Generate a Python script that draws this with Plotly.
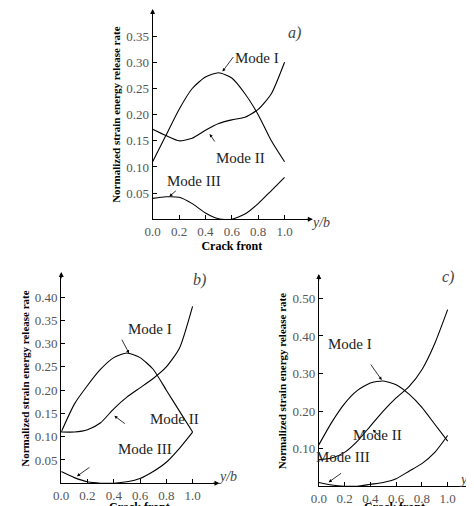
import plotly.graph_objects as go

W, H = 474, 506
x = [0.0, 0.1, 0.2, 0.3, 0.4, 0.5, 0.6, 0.7, 0.8, 0.9, 1.0]
a_I = [0.11, 0.16, 0.21, 0.25, 0.272, 0.28, 0.27, 0.24, 0.20, 0.15, 0.11]
a_II = [0.172, 0.16, 0.15, 0.155, 0.17, 0.183, 0.19, 0.195, 0.21, 0.24, 0.30]
a_III = [0.04, 0.043, 0.042, 0.03, 0.012, 0.001, 0.0, 0.01, 0.03, 0.055, 0.08]
b_I = [0.11, 0.17, 0.21, 0.245, 0.27, 0.28, 0.27, 0.245, 0.20, 0.155, 0.11]
b_II = [0.11, 0.11, 0.115, 0.13, 0.16, 0.185, 0.205, 0.225, 0.25, 0.29, 0.38]
b_III = [0.025, 0.012, 0.003, 0.0, 0.0, 0.003, 0.01, 0.025, 0.045, 0.075, 0.11]
c_I = [0.11, 0.17, 0.22, 0.255, 0.275, 0.28, 0.27, 0.245, 0.21, 0.165, 0.12]
c_II = [0.07, 0.075, 0.09, 0.12, 0.16, 0.20, 0.235, 0.265, 0.31, 0.38, 0.47]
c_III = [0.01, 0.003, 0.0, 0.0, 0.005, 0.01, 0.02, 0.04, 0.06, 0.09, 0.135]
xticks = [0.0, 0.2, 0.4, 0.6, 0.8, 1.0]
yt_a = [0.05, 0.10, 0.15, 0.20, 0.25, 0.30, 0.35]
yt_b = [0.05, 0.10, 0.15, 0.20, 0.25, 0.30, 0.35, 0.40]
yt_c = [0.10, 0.20, 0.30, 0.40, 0.50]

def px(xp): return xp / W
def py(yp): return 1 - yp / H

FONT = "Liberation Serif"
fig = go.Figure()
panels = [
    ((a_I, a_II, a_III), yt_a, 139, 300, 213, 2, 1.2, 0.40, "a)", (283, 14)),
    ((b_I, b_II, b_III), yt_b, 46, 205, 479, 268, 1.19, 0.45, "b)", (187, 274)),
    ((c_I, c_II, c_III), yt_c, 308, 462, 482, 270, 1.175, 0.56, "c)", (448, 271)),
]
layout = {}
for i, (series, yt, x0, x1, y0, y1, xmax, ymax, lab, lp) in enumerate(panels):
    n = "" if i == 0 else str(i + 1)
    for s in series:
        fig.add_trace(go.Scatter(x=x, y=s, mode="lines",
                                 line=dict(color="black", width=1.1, shape="spline", smoothing=0.6),
                                 xaxis="x" + n, yaxis="y" + n, showlegend=False))
    ax = dict(domain=[px(x0), px(x1)], range=[0, xmax], tickvals=xticks, ticktext=[f"{v:.1f}" for v in xticks],
              showgrid=False, zeroline=False, showline=True, linecolor="black", ticks="inside", ticklen=4,
              tickcolor="black", tickfont=dict(family=FONT, size=13, color="#555"), anchor="y" + n,
              title=dict(text="<b>Crack front</b>", font=dict(family=FONT, size=12, color="black"), standoff=0))
    ay = dict(domain=[py(y0), py(y1)], range=[0, ymax], tickvals=yt, ticktext=[f"{v:.2f}" for v in yt],
              showgrid=False, zeroline=False, showline=True, linecolor="black", ticks="inside", ticklen=4,
              tickcolor="black", tickfont=dict(family=FONT, size=13, color="#555"), anchor="x" + n,
              title=dict(text="<b>Normalized strain energy release rate</b>", font=dict(family=FONT, size=11, color="black"), standoff=3))
    layout["xaxis" + n] = ax
    layout["yaxis" + n] = ay
    fig.add_annotation(xref="paper", yref="paper", x=px(x1 + 2), y=py(y0), ax=-8, ay=0, text="", showarrow=True,
                       arrowhead=2, arrowsize=1, arrowwidth=1, arrowcolor="black")
    fig.add_annotation(xref="paper", yref="paper", x=px(x0), y=py(y1 - 2), ax=0, ay=8, text="", showarrow=True,
                       arrowhead=2, arrowsize=1, arrowwidth=1, arrowcolor="black")
    fig.add_annotation(xref="paper", yref="paper", x=px(x1 + 10), y=py(y0 + 3), text="<i>y/b</i>", showarrow=False,
                       font=dict(family=FONT, size=14, color="#444"))
    fig.add_annotation(xref="paper", yref="paper", x=px(lp[0]), y=py(lp[1]), text=f"<i>{lab}</i>", showarrow=False,
                       font=dict(family=FONT, size=16, color="#444"))

# text, text centre x/y, arrow tail x/y, arrow head x/y
labels = [
    ("Mode I", 245, 40, 222, 48, 210, 64), ("Mode II", 228, 141, 203, 136, 197, 127),
    ("Mode III", 152, 174, 164, 183, 156, 190),
    ("Mode I", 112, 324, 107, 333, 115, 348), ("Mode II", 134, 424, 112, 420, 100, 411),
    ("Mode III", 102, 455, 76, 462, 62, 472),
    ("Mode I", 364, 349, 360, 358, 372, 375), ("Mode II", 395, 440, 372, 434, 363, 425),
    ("Mode III", 362, 463, 332, 468, 318, 478),
]
for t, tx, ty, sx, sy, hx, hy in labels:
    fig.add_annotation(xref="paper", yref="paper", x=px(hx), y=py(hy), ax=sx - hx, ay=sy - hy, text="",
                       showarrow=True, arrowhead=2, arrowsize=0.8, arrowwidth=0.8, arrowcolor="black", standoff=0)
    fig.add_annotation(xref="paper", yref="paper", x=px(tx), y=py(ty), text=t, showarrow=False,
                       font=dict(family=FONT, size=15, color="#222"), bgcolor="rgba(0,0,0,0)")

fig.update_layout(width=W, height=H, margin=dict(l=0, r=0, t=0, b=0), plot_bgcolor="rgba(0,0,0,0)",
                  paper_bgcolor="white", **layout)
fig.write_html("out.html")
